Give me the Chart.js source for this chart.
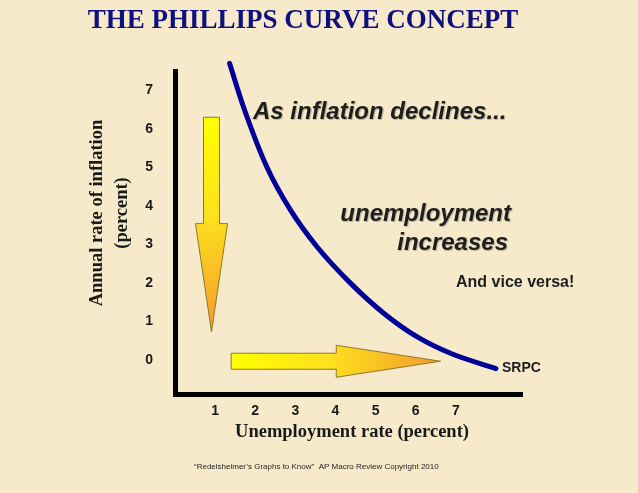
<!DOCTYPE html>
<html>
<head>
<meta charset="utf-8">
<script src="https://cdn.jsdelivr.net/npm/chart.js@4.4.1/dist/chart.umd.min.js"></script>
<style>
  html, body { margin: 0; padding: 0; background: #f6e9c8; }
  canvas { display: block; }
</style>
</head>
<body>
<canvas id="phillips" width="638" height="493"></canvas>
<script>
// ---- data ----
const unemployment = [1.36, 1.71, 2.29, 2.88, 3.54, 4.38, 5.21, 6.04, 6.88, 8.0];
const inflation    = [7.70, 6.56, 5.01, 3.89, 2.94, 1.99, 1.21, 0.60, 0.17, -0.22];
const xTicks = [1, 2, 3, 4, 5, 6, 7];
const yTicks = [0, 1, 2, 3, 4, 5, 6, 7];
// down arrow: [x, yTail, yHeadBase, yTip]   right arrow: [y, xTail, xHeadBase, xTip]
const downArrow  = [0.91, 6.30, 3.54, 0.73];
const rightArrow = [-0.03, 1.40, 4.02, 6.62];

const SANS = '"Liberation Sans", Arial, sans-serif';
const SERIF = '"Liberation Serif", "Times New Roman", serif';

// page background
const bgPlugin = {
  id: 'bg',
  beforeDraw(chart) {
    const ctx = chart.ctx;
    ctx.save();
    ctx.fillStyle = '#f7eaca';
    ctx.fillRect(0, 0, chart.width, chart.height);
    ctx.restore();
  }
};

function drawArrow(ctx, pts, grad) {
  ctx.beginPath();
  pts.forEach((p, i) => i ? ctx.lineTo(p[0], p[1]) : ctx.moveTo(p[0], p[1]));
  ctx.closePath();
  ctx.fillStyle = grad;
  ctx.fill();
  ctx.lineWidth = 1;
  ctx.strokeStyle = '#8c7a2a';
  ctx.stroke();
}

// arrows (placed with the chart scales) drawn under the curve
const arrowPlugin = {
  id: 'arrows',
  beforeDatasetsDraw(chart) {
    const ctx = chart.ctx, xs = chart.scales.x, ys = chart.scales.y;
    ctx.save();
    // down arrow
    let cx = xs.getPixelForValue(downArrow[0]);
    let t = ys.getPixelForValue(downArrow[1]);
    let hb = ys.getPixelForValue(downArrow[2]);
    let tip = ys.getPixelForValue(downArrow[3]);
    let g = ctx.createLinearGradient(0, t, 0, tip);
    g.addColorStop(0, '#ffff00');
    g.addColorStop(0.45, '#fde21c');
    g.addColorStop(1, '#f59a2e');
    drawArrow(ctx, [[cx - 8, t], [cx + 8, t], [cx + 8, hb], [cx + 16, hb], [cx, tip],
                    [cx - 16, hb], [cx - 8, hb]], g);
    // right arrow
    let cy = ys.getPixelForValue(rightArrow[0]);
    let l = xs.getPixelForValue(rightArrow[1]);
    let hx = xs.getPixelForValue(rightArrow[2]);
    let tx = xs.getPixelForValue(rightArrow[3]);
    g = ctx.createLinearGradient(l, 0, tx, 0);
    g.addColorStop(0, '#ffff00');
    g.addColorStop(0.45, '#fde21c');
    g.addColorStop(1, '#f59a2e');
    drawArrow(ctx, [[l, cy - 8], [hx, cy - 8], [hx, cy - 16], [tx, cy], [hx, cy + 16],
                    [hx, cy + 8], [l, cy + 8]], g);
    ctx.restore();
  }
};

// titles and notes
const textPlugin = {
  id: 'texts',
  afterDraw(chart) {
    const ctx = chart.ctx;
    ctx.save();
    ctx.textBaseline = 'middle';

    ctx.fillStyle = '#0f0f7d';
    ctx.font = 'bold 27px ' + SERIF;
    ctx.textAlign = 'center';
    ctx.fillText('THE PHILLIPS CURVE CONCEPT', 303, 21);

    ctx.fillStyle = '#1a1a1a';
    ctx.font = 'bold 18.5px ' + SERIF;
    ctx.fillText('Unemployment rate (percent)', 352, 432);
    ctx.save();
    ctx.translate(97, 213);
    ctx.rotate(-Math.PI / 2);
    ctx.fillText('Annual rate of inflation', 0, 0);
    ctx.restore();
    ctx.save();
    ctx.translate(122, 213);
    ctx.rotate(-Math.PI / 2);
    ctx.fillText('(percent)', 0, 0);
    ctx.restore();

    ctx.shadowColor = 'rgba(0,0,0,0.25)';
    ctx.shadowOffsetX = 1;
    ctx.shadowOffsetY = 1;
    ctx.shadowBlur = 1;
    ctx.fillStyle = '#1e1e1e';
    ctx.font = 'italic bold 24px ' + SANS;
    ctx.textAlign = 'left';
    ctx.fillText('As inflation declines...', 253, 112);
    ctx.textAlign = 'right';
    ctx.fillText('unemployment', 511, 214);
    ctx.fillText('increases', 508, 243);
    ctx.shadowColor = 'transparent';

    ctx.textAlign = 'left';
    ctx.font = 'bold 16px ' + SANS;
    ctx.fillText('And vice versa!', 456, 283);
    ctx.font = 'bold 14px ' + SANS;
    ctx.fillText('SRPC', 502, 368);

    ctx.font = '8px ' + SANS;
    ctx.fillText('\u201cRedelsheimer\u2019s Graphs to Know\u201d  AP Macro Review Copyright 2010', 194, 467);
    ctx.restore();
  }
};

new Chart(document.getElementById('phillips'), {
  type: 'scatter',
  data: {
    datasets: [{
      label: 'SRPC',
      data: unemployment.map((u, i) => ({ x: u, y: inflation[i] })),
      showLine: true,
      borderColor: '#000099',
      borderWidth: 5,
      borderCapStyle: 'round',
      cubicInterpolationMode: 'monotone',
      pointRadius: 0,
      clip: false
    }]
  },
  options: {
    responsive: false,
    animation: false,
    layout: { padding: { top: 71, right: 116, left: 0, bottom: 0 } },
    plugins: { legend: { display: false }, tooltip: { enabled: false } },
    scales: {
      x: {
        type: 'linear',
        min: 0,
        max: 8.65,
        afterFit(scale) { scale.height = 99; },
        afterBuildTicks(scale) { scale.ticks = xTicks.map(v => ({ value: v })); },
        grid: { display: false, drawTicks: false },
        border: { display: true, color: '#000', width: 5 },
        ticks: { color: '#1a1a1a', font: { family: SANS, size: 14, weight: 'bold' }, padding: 9 }
      },
      y: {
        type: 'linear',
        min: -0.88,
        max: 7.5,
        afterFit(scale) { scale.width = 175; },
        afterBuildTicks(scale) { scale.ticks = yTicks.map(v => ({ value: v })); },
        grid: { display: false, drawTicks: false },
        border: { display: true, color: '#000', width: 5 },
        ticks: { color: '#1a1a1a', font: { family: SANS, size: 14, weight: 'bold' }, padding: 22 }
      }
    }
  },
  plugins: [bgPlugin, arrowPlugin, textPlugin]
});
</script>
</body>
</html>
